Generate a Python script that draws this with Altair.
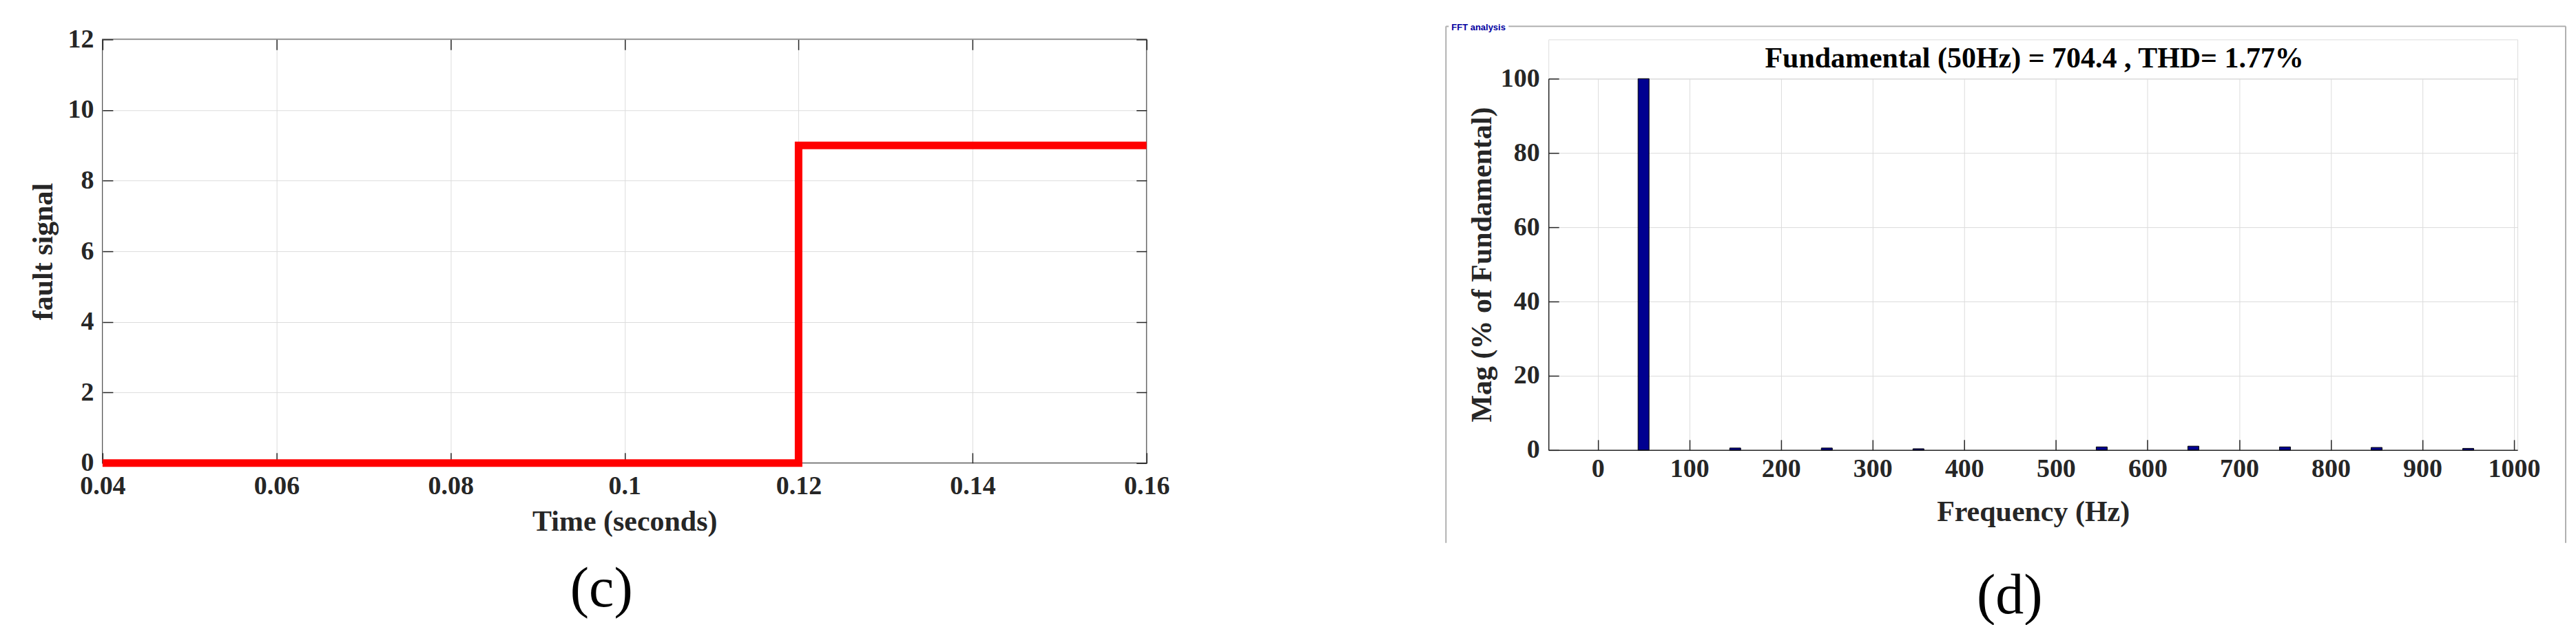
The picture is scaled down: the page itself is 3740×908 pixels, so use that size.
import altair as alt
import pandas as pd

# ---------------- data ----------------
# (c) fault signal (step)
fault_time = [0.04, 0.12, 0.16]
fault_level = [0, 9, 9]
time_ticks = [0.04, 0.06, 0.08, 0.1, 0.12, 0.14, 0.16]
level_ticks = [0, 2, 4, 6, 8, 10, 12]

# (d) FFT spectrum
harmonic_freq = [50, 150, 250, 350, 550, 650, 750, 850, 950]
harmonic_mag = [100, 0.55, 0.55, 0.35, 0.85, 1.05, 0.85, 0.7, 0.45]
freq_ticks = [0, 100, 200, 300, 400, 500, 600, 700, 800, 900, 1000]
mag_ticks = [0, 20, 40, 60, 80, 100]

fft_title = "Fundamental (50Hz) = 704.4 , THD= 1.77%"
caption_c = "(c)"
caption_d = "(d)"

# ---------------- style ----------------
FONT = "Liberation Serif"
AX = "#262626"
GRID = "#dcdcdc"
FRAME = "#b0b0b0"

fault_df = pd.DataFrame({"t": fault_time, "v": fault_level})
fft_df = pd.DataFrame({"f": harmonic_freq, "m": harmonic_mag})
one = pd.DataFrame({"k": [0]})

LW, LH = 1517, 616
RW, RH = 1408, 540


def main_axis(orient, values, title, fmt, label_pad, title_pad, domain):
    return alt.Axis(
        orient=orient, values=values, format=fmt, title=title,
        ticks=False, domain=domain, domainColor=AX, domainWidth=1.5,
        grid=True, gridColor=GRID, gridWidth=1,
        labelFont=FONT, labelFontSize=38, labelFontWeight="bold", labelColor=AX,
        labelPadding=label_pad, labelFlush=False, labelOverlap=False,
        titleFont=FONT, titleFontSize=42, titleFontWeight="bold", titleColor=AX,
        titlePadding=title_pad,
    )


def tick_axis(orient, values):
    return alt.Axis(
        orient=orient, values=values, labels=False, domain=False, grid=False,
        ticks=True, tickSize=15, tickWidth=1.5, tickColor=AX, offset=-15, title=None,
    )


# ---------------- (c) ----------------
xsL = alt.Scale(domain=[0.04, 0.16], nice=False, zero=False)
ysL = alt.Scale(domain=[0, 12], nice=False)

fault_line = alt.Chart(fault_df).mark_line(
    color="#ff0000", strokeWidth=11, interpolate="step-after", strokeCap="butt", strokeJoin="miter"
).encode(
    x=alt.X("t:Q", scale=xsL, axis=main_axis("bottom", time_ticks, "Time (seconds)", "~g", 15, 12, False)),
    y=alt.Y("v:Q", scale=ysL, axis=main_axis("left", level_ticks, "fault signal", "d", 13, 13, False)),
)
ticks_bl = alt.Chart(fault_df).mark_line(opacity=0).encode(
    x=alt.X("t:Q", scale=xsL, axis=tick_axis("bottom", time_ticks)),
    y=alt.Y("v:Q", scale=ysL, axis=tick_axis("left", level_ticks)),
)
ticks_tr = alt.Chart(fault_df).mark_line(opacity=0).encode(
    x=alt.X("t:Q", scale=xsL, axis=tick_axis("top", time_ticks)),
    y=alt.Y("v:Q", scale=ysL, axis=tick_axis("right", level_ticks)),
)
cap_c = alt.Chart(one).mark_text(
    text=caption_c, font=FONT, fontSize=82, color="black", align="center", baseline="alphabetic"
).encode(x=alt.value(725), y=alt.value(824))
# invisible anchor fixing the top-left corner of the whole picture
anchor_l = alt.Chart(one).mark_rule(strokeWidth=1, opacity=0).encode(
    x=alt.value(-120), x2=alt.value(1600), y=alt.value(-40)
)

left = alt.layer(fault_line, ticks_bl, ticks_tr, cap_c, anchor_l).resolve_axis(
    x="independent", y="independent"
).properties(width=LW, height=LH, view=alt.ViewBackground(stroke=AX, strokeWidth=1.5))

# ---------------- (d) ----------------
xsR = alt.Scale(domain=[-50, 1000], nice=False, zero=False)
ysR = alt.Scale(domain=[0, 100], nice=False)

bars = alt.Chart(fft_df).mark_bar(size=16, color="#000090", stroke="black", strokeWidth=1).encode(
    x=alt.X("f:Q", scale=xsR, axis=main_axis("bottom", freq_ticks, "Frequency (Hz)", "d", 9, 23, True)),
    y=alt.Y("m:Q", scale=ysR, axis=main_axis("left", mag_ticks, "Mag (% of Fundamental)", "d", 13, 5, True)),
)
ticks_r = alt.Chart(fft_df).mark_point(opacity=0).encode(
    x=alt.X("f:Q", scale=xsR, axis=tick_axis("bottom", freq_ticks)),
    y=alt.Y("m:Q", scale=ysR, axis=tick_axis("left", mag_ticks)),
)
title_d = alt.Chart(one).mark_text(
    text=fft_title, font=FONT, fontSize=42, fontWeight="bold", color="black",
    align="center", baseline="alphabetic",
).encode(x=alt.value(706), y=alt.value(-16))
fft_label = alt.Chart(one).mark_text(
    text="FFT analysis", font="Liberation Sans", fontSize=13, fontWeight="bold", color="#0000a0",
    align="left", baseline="alphabetic",
).encode(x=alt.value(-141), y=alt.value(-70))
frame_top1 = alt.Chart(one).mark_rule(color=FRAME, strokeWidth=2).encode(
    x=alt.value(-149), x2=alt.value(-145), y=alt.value(-76)
)
frame_top2 = alt.Chart(one).mark_rule(color=FRAME, strokeWidth=2).encode(
    x=alt.value(-58), x2=alt.value(1478), y=alt.value(-76)
)
frame_left = alt.Chart(one).mark_rule(color=FRAME, strokeWidth=2).encode(
    x=alt.value(-149), y=alt.value(-76), y2=alt.value(675)
)
frame_right = alt.Chart(one).mark_rule(color=FRAME, strokeWidth=2).encode(
    x=alt.value(1478), y=alt.value(-76), y2=alt.value(675)
)
cap_d = alt.Chart(one).mark_text(
    text=caption_d, font=FONT, fontSize=82, color="black", align="center", baseline="alphabetic"
).encode(x=alt.value(670), y=alt.value(777))

right = alt.layer(
    bars, ticks_r, title_d, fft_label, frame_top1, frame_top2, frame_left, frame_right, cap_d
).resolve_axis(x="independent", y="independent").properties(width=RW, height=RH)

# empty spacer that lowers panel (d) relative to panel (c)
spacer = alt.Chart(one).mark_point(opacity=0).encode(
    x=alt.value(0), y=alt.value(0)
).properties(width=RW, height=57)

right_col = alt.vconcat(spacer, right, spacing=0, bounds="flush")

chart = alt.hconcat(left, right_col, spacing=584, bounds="flush").properties(
    padding={"left": 20, "top": 8, "right": 5, "bottom": 5}
).configure_view(stroke=None).configure(background="white")

chart.save("out.html", embed_options={"renderer": "svg", "actions": False})
